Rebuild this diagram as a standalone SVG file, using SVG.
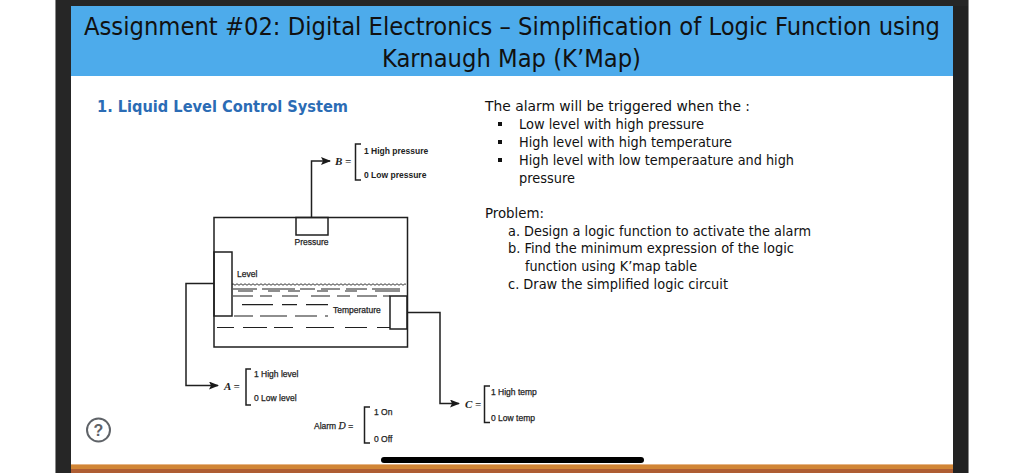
<svg xmlns="http://www.w3.org/2000/svg" width="1024" height="473" viewBox="0 0 1024 473">
<defs>
<marker id="ah" viewBox="0 0 10 8" refX="9" refY="4" markerWidth="10" markerHeight="8" markerUnits="userSpaceOnUse" orient="auto"><path d="M0 0L10 4L0 8L2 4Z" fill="#1a1a1a"/></marker>
</defs>
<style>
.t{font-family:"DejaVu Sans Condensed","DejaVu Sans","Liberation Sans",sans-serif;fill:#111}
.h{font-size:25px}
.b{font-size:14px}
.d{font-family:"Liberation Sans",Arial,sans-serif;font-size:8.5px;fill:#222;stroke:#222;stroke-width:.25}
.s{font-weight:bold;stroke-width:0}
.v{font-family:"Liberation Serif",serif;font-style:italic;font-size:11px;fill:#222;font-weight:bold}
.l{fill:none;stroke:#1f1f1f;stroke-width:1.5}
.w{fill:none;stroke:#1f1f1f;stroke-width:1.2}
</style>
<rect width="1024" height="473" fill="#fff"/>
<rect x="55" y="0" width="16" height="473" fill="#262626"/>
<rect x="953" y="0" width="16" height="473" fill="#222"/>
<rect x="55" y="0" width="914" height="6" fill="#262626"/>
<rect x="55" y="0" width="1" height="473" fill="#8a8a8a"/>
<rect x="968" y="0" width="1" height="473" fill="#8a8a8a"/>
<rect x="71" y="6" width="882" height="70" fill="#4dabeb"/>
<rect x="71" y="464" width="882" height="1" fill="#e6b587"/>
<rect x="71" y="465" width="882" height="4" fill="#d18535"/>
<rect x="71" y="469" width="882" height="4" fill="#ae5d33"/>
<text class="t h" x="84" y="35" textLength="856" lengthAdjust="spacingAndGlyphs">Assignment #02: Digital Electronics – Simplification of Logic Function using</text>
<text class="t h" x="382" y="67" textLength="259" lengthAdjust="spacingAndGlyphs">Karnaugh Map (K’Map)</text>
<text x="97" y="112" font-family="'DejaVu Sans','Liberation Sans',sans-serif" font-size="16" font-weight="bold" fill="#2b6cb5" textLength="251" lengthAdjust="spacingAndGlyphs">1. Liquid Level Control System</text>

<g id="alarm-text">
<text class="t b" x="485" y="111" textLength="265" lengthAdjust="spacingAndGlyphs">The alarm will be triggered when the :</text>
<rect x="498" y="122" width="4" height="4" fill="#111"/>
<text class="t b" x="519" y="129" textLength="185" lengthAdjust="spacingAndGlyphs">Low level with high pressure</text>
<rect x="498" y="140" width="4" height="4" fill="#111"/>
<text class="t b" x="519" y="147" textLength="213" lengthAdjust="spacingAndGlyphs">High level with high temperature</text>
<rect x="498" y="158" width="4" height="4" fill="#111"/>
<text class="t b" x="519" y="165" textLength="275" lengthAdjust="spacingAndGlyphs">High level with low temperaature and high</text>
<text class="t b" x="519" y="183" textLength="56" lengthAdjust="spacingAndGlyphs">pressure</text>
</g>
<g id="problem-text">
<text class="t b" x="485" y="218" textLength="59" lengthAdjust="spacingAndGlyphs">Problem:</text>
<text class="t b" x="508" y="236" textLength="303" lengthAdjust="spacingAndGlyphs">a. Design a logic function to activate the alarm</text>
<text class="t b" x="508" y="253" textLength="286" lengthAdjust="spacingAndGlyphs">b. Find the minimum expression of the logic</text>
<text class="t b" x="525" y="271" textLength="172" lengthAdjust="spacingAndGlyphs">function using K’map table</text>
<text class="t b" x="508" y="289" textLength="220" lengthAdjust="spacingAndGlyphs">c. Draw the simplified logic circuit</text>
</g>

<g id="tank">
<path class="l" d="M214 217.500H407.500V347H214Z"/>
<text class="d" x="294.500" y="245">Pressure</text>
<path d="M232 284.500Q233 283 234 284.500T236 284.500T238 284.500T240 284.500T242 284.500T244 284.500T246 284.500T248 284.500T250 284.500T252 284.500T254 284.500T256 284.500T258 284.500T260 284.500T262 284.500T264 284.500T266 284.500T268 284.500T270 284.500T272 284.500T274 284.500T276 284.500T278 284.500T280 284.500T282 284.500T284 284.500T286 284.500T288 284.500T290 284.500T292 284.500T294 284.500T296 284.500T298 284.500T300 284.500T302 284.500T304 284.500T306 284.500T308 284.500T310 284.500T312 284.500T314 284.500T316 284.500T318 284.500T320 284.500T322 284.500T324 284.500T326 284.500T328 284.500T330 284.500T332 284.500T334 284.500T336 284.500T338 284.500T340 284.500T342 284.500T344 284.500T346 284.500T348 284.500T350 284.500T352 284.500T354 284.500T356 284.500T358 284.500T360 284.500T362 284.500T364 284.500T366 284.500T368 284.500T370 284.500T372 284.500T374 284.500T376 284.500T378 284.500T380 284.500T382 284.500T384 284.500T386 284.500T388 284.500T390 284.500T392 284.500T394 284.500T396 284.500T398 284.500T400 284.500T402 284.500T404 284.500T406 284.500" fill="none" stroke="#222" stroke-width="0.9"/>
<path class="w" d="M233 289H257M262 289H295M300 289H315M321 289H340M346 289H367M372 289H400M238 291H253M268 291H280M288 291H300M317 291H328M345 291H357M375 291H400M233 296H253M260 296H272M282 296H298M311 296H330M337 296H350M357 296H377M383 296H390M242 304.700H273M282 304.700H297M306 304.700H328M234 316H253M260 316H287M295 316H317M325 316H328M217 327.500H234M243 327.500H267M274 327.500H293M306 327.500H334M345 327.500H367M377 327.500H390"/>
</g>
<g id="pressure-sensor">
<rect class="l" x="296" y="217.500" width="32" height="17.500" fill="#fff"/>
</g>
<g id="level-sensor">
<rect class="l" x="214" y="252" width="18" height="64" fill="#fff"/>
<text class="d" x="237" y="276.500">Level</text>
</g>
<g id="temp-sensor">
<rect class="l" x="390" y="296" width="17" height="33" fill="#fff"/>
<text class="d" x="333" y="312.500">Temperature</text>
</g>
<g id="connectors">
<path class="l" d="M311.500 217V161H330" marker-end="url(#ah)"/>
<path class="l" d="M214 283.500H186V385.500H218" marker-end="url(#ah)"/>
<path class="l" d="M407.500 312.500H440V403.500H459" marker-end="url(#ah)"/>
</g>
<g id="output-b">
<text class="v" x="335" y="165">B =</text>
<path class="l" d="M361 144H355.500V180H361"/>
<text class="d s" x="364" y="154">1 High pressure</text>
<text class="d s" x="364" y="178">0 Low pressure</text>
</g>
<g id="output-a">
<text class="v" x="224" y="390">A =</text>
<path class="l" d="M251 369H246V405H251"/>
<text class="d" x="254" y="377">1 High level</text>
<text class="d" x="254" y="401">0 Low level</text>
</g>
<g id="output-c">
<text class="v" x="465" y="408">C =</text>
<path class="l" d="M490 386H484.500V422.500H490"/>
<text class="d" x="491" y="394.500">1 High temp</text>
<text class="d" x="491" y="421">0 Low temp</text>
</g>
<g id="output-d">
<text class="d" x="314" y="429">Alarm <tspan font-family="'Liberation Serif',serif" font-style="italic" font-size="10">D</tspan> =</text>
<path class="l" d="M370 407H364.500V443H370"/>
<text class="d" x="374" y="415">1 On</text>
<text class="d" x="374" y="442">0 Off</text>
</g>
<g id="help">
<circle cx="98.500" cy="430" r="11.500" fill="none" stroke="#5f6368" stroke-width="2"/>
<text x="98.500" y="436" text-anchor="middle" font-family="'Liberation Sans',sans-serif" font-size="16" font-weight="bold" fill="#5f6368">?</text>
</g>
<rect x="381" y="457" width="263" height="6" rx="3" fill="#000"/>
</svg>
